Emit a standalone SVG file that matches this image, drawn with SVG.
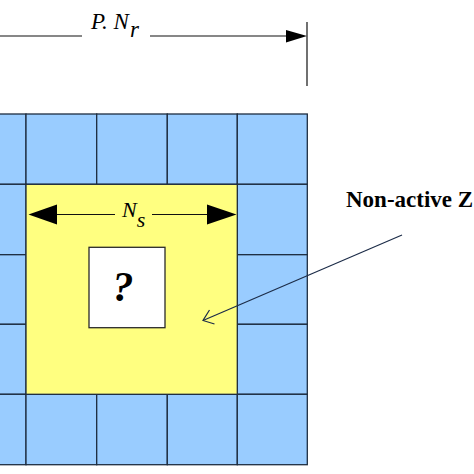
<svg xmlns="http://www.w3.org/2000/svg" width="474" height="474" viewBox="0 0 474 474">
  <style>
    .cell { fill: #99ccff; stroke: #1e2d40; stroke-width: 1.3; }
    .zone { fill: #ffff80; stroke: #1e2d40; stroke-width: 1.3; }
    .box { fill: #ffffff; stroke: #2a2a2a; stroke-width: 1.3; }
    .dim { stroke: #111111; stroke-width: 1.2; fill: none; }
    .head { fill: #000000; }
  </style>
  <rect x="0" y="0" width="474" height="474" fill="#ffffff"/>

  <g id="grid">
    <rect class="cell" x="-44.3" y="114" width="70.3" height="70.3"/>
    <rect class="cell" x="26" y="114" width="70.7" height="70.3"/>
    <rect class="cell" x="96.7" y="114" width="70.6" height="70.3"/>
    <rect class="cell" x="167.3" y="114" width="70" height="70.3"/>
    <rect class="cell" x="237.3" y="114" width="70" height="70.3"/>

    <rect class="cell" x="-44.3" y="184.3" width="70.3" height="70.4"/>
    <rect class="cell" x="237.3" y="184.3" width="70" height="70.4"/>
    <rect class="cell" x="-44.3" y="254.7" width="70.3" height="69.6"/>
    <rect class="cell" x="237.3" y="254.7" width="70" height="69.6"/>
    <rect class="cell" x="-44.3" y="324.3" width="70.3" height="70"/>
    <rect class="cell" x="237.3" y="324.3" width="70" height="70"/>

    <rect class="cell" x="-44.3" y="394.3" width="70.3" height="70.4"/>
    <rect class="cell" x="26" y="394.3" width="70.7" height="70.4"/>
    <rect class="cell" x="96.7" y="394.3" width="70.6" height="70.4"/>
    <rect class="cell" x="167.3" y="394.3" width="70" height="70.4"/>
    <rect class="cell" x="237.3" y="394.3" width="70" height="70.4"/>
  </g>

  <g id="non-active-zone">
    <rect class="zone" x="26" y="184.3" width="211.3" height="210"/>
  </g>

  <g id="unknown-cell">
    <rect class="box" x="89" y="247.3" width="76" height="80.4"/>
    <text x="123" y="301" font-family="Times New Roman, Liberation Serif, DejaVu Serif, serif" font-style="italic" font-weight="bold" font-size="42" text-anchor="middle" fill="#000">?</text>
  </g>

  <g id="connectors">
    <line class="dim" x1="0" y1="36" x2="82" y2="36"/>
    <line class="dim" x1="150" y1="36" x2="288" y2="36"/>
    <polygon class="head" points="286,30 307,36 286,42.5"/>
    <line class="dim" x1="307" y1="22" x2="307" y2="86"/>
    <line class="dim" x1="55" y1="214.5" x2="115" y2="214.5"/>
    <line class="dim" x1="152" y1="214.5" x2="208" y2="214.5"/>
    <polygon class="head" points="28.5,214.5 57,204.5 57,224.5"/>
    <polygon class="head" points="236.5,214.5 207,204.5 207,224.5"/>
    <line x1="402" y1="235" x2="203" y2="320.5" stroke="#1c2c48" stroke-width="1.2"/>
    <polyline points="209.5,310 203,320.5 214.5,324" fill="none" stroke="#1c2c48" stroke-width="1.2"/>
  </g>

  <g id="labels">
    <text x="91" y="28.5" font-family="Times New Roman, Liberation Serif, DejaVu Serif, serif" font-style="italic" font-size="23" fill="#000">P. N<tspan dx="1" dy="8">r</tspan></text>
    <text x="122" y="217" font-family="Times New Roman, Liberation Serif, DejaVu Serif, serif" font-style="italic" font-size="22" fill="#000">N<tspan dy="10">s</tspan></text>
    <text x="346" y="207" font-family="Times New Roman, Liberation Serif, DejaVu Serif, serif" font-weight="bold" font-size="23" fill="#000">Non-active Z</text>
  </g>
</svg>
